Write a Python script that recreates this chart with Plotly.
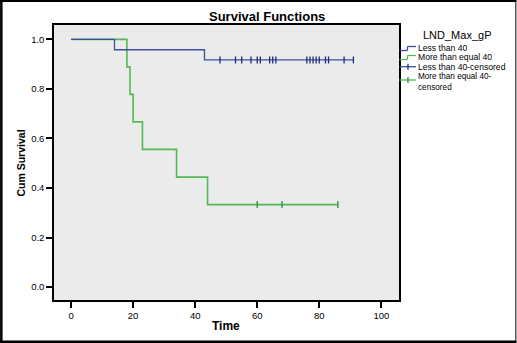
import plotly.graph_objects as go

# ---- data ----
blue_name = "Less than 40"
green_name = "More than equal 40"

blue_step_t = [0, 14, 43, 91]
blue_step_s = [1.0, 0.958, 0.917, 0.917]
blue_cens_t = [48, 53, 55, 58, 60, 61, 64, 65, 66, 76, 77, 78, 79, 80, 82, 83, 88, 91]
blue_cens_s = [0.917] * len(blue_cens_t)

green_step_t = [0, 18, 19, 20, 23, 34, 44, 86]
green_step_s = [1.0, 0.889, 0.778, 0.667, 0.556, 0.444, 0.333, 0.333]
green_cens_t = [60, 68, 86]
green_cens_s = [0.333] * len(green_cens_t)

x_ticks = [0, 20, 40, 60, 80, 100]
y_ticks = [0.0, 0.2, 0.4, 0.6, 0.8, 1.0]
y_tick_text = ["0.0", "0.2", "0.4", "0.6", "0.8", "1.0"]

BLUE = "#3d4f9e"
BLUE_DK = "#1f2d7a"
GREEN = "#55b855"
GREEN_DK = "#2f8a3a"
FONT = "Liberation Sans, Arial, sans-serif"

W, H = 517, 343
L, R, T, B = 54, 399.5, 25, 300


def px(p):
    return (p - L) / (R - L)


def py(p):
    return (B - p) / (B - T)


fig = go.Figure()
fig.add_trace(go.Scatter(x=green_step_t, y=green_step_s, mode="lines",
                         line=dict(color=GREEN, width=1.6, shape="hv"),
                         showlegend=False, hoverinfo="skip"))
fig.add_trace(go.Scatter(x=blue_step_t, y=blue_step_s, mode="lines",
                         line=dict(color=BLUE, width=1.3, shape="hv"),
                         showlegend=False, hoverinfo="skip"))
fig.add_trace(go.Scatter(x=blue_cens_t, y=blue_cens_s, mode="markers",
                         marker=dict(symbol="line-ns", size=5,
                                     line=dict(color=BLUE_DK, width=1.3)),
                         showlegend=False))
fig.add_trace(go.Scatter(x=green_cens_t, y=green_cens_s, mode="markers",
                         marker=dict(symbol="line-ns", size=5,
                                     line=dict(color=GREEN_DK, width=1.3)),
                         showlegend=False))

shapes = []
# outer black frame
for (x0, y0, x1, y1) in [(0, 0, 2.5, H), (0, 0, W, 2), (0, 340.5, W, H), (516, 0, W, H)]:
    shapes.append(dict(type="rect", xref="paper", yref="paper",
                       x0=px(x0), x1=px(x1), y0=py(y1), y1=py(y0),
                       fillcolor="black", line=dict(width=0), layer="above"))

annotations = []


def seg(x0, y0, x1, y1, color, w=1.3):
    shapes.append(dict(type="line", xref="paper", yref="paper",
                       x0=px(x0), y0=py(y0), x1=px(x1), y1=py(y1),
                       line=dict(color=color, width=w)))


def text(x, y, s, size=8.6, anchor="left", bold=False):
    annotations.append(dict(xref="paper", yref="paper", x=px(x), y=py(y),
                            text=("<b>%s</b>" % s) if bold else s,
                            showarrow=False, xanchor=anchor, yanchor="middle",
                            align="left", borderpad=0,
                            font=dict(family=FONT, size=size, color="black")))


# legend (manual, SPSS style)
text(458, 34.5, "LND_Max_gP", size=11, anchor="center")
# step glyphs
for yc, col in [(48.5, BLUE), (57.5, GREEN)]:
    seg(400, yc + 2, 408, yc + 2, col)
    seg(408, yc + 2, 408, yc - 2, col)
    seg(408, yc - 2, 416.5, yc - 2, col)
# censored glyphs
for yc, col, dk in [(66.7, BLUE, BLUE_DK), (80.0, GREEN, GREEN_DK)]:
    seg(400, yc, 416.5, yc, col)
    seg(408.5, yc - 3, 408.5, yc + 3, dk, 1.3)
text(417.5, 48.3, blue_name)
text(417.5, 57.4, green_name)
text(417.5, 66.6, blue_name + "-censored")
text(417.5, 82.3, green_name + "-<br>censored", size=8.2)

# titles
text(267, 16.5, "Survival Functions", size=13, anchor="center", bold=True)
text(226.5, 325.5, "Time", size=12, anchor="center", bold=True)
annotations.append(dict(xref="paper", yref="paper", x=px(20.5), y=py(163),
                        text="<b>Cum Survival</b>", textangle=-90, showarrow=False,
                        xanchor="center", yanchor="middle",
                        font=dict(family=FONT, size=10.5, color="black")))

fig.update_layout(
    width=W, height=H,
    margin=dict(l=L, r=W - R, t=T, b=H - B),
    paper_bgcolor="white", plot_bgcolor="#ebebeb",
    shapes=shapes, annotations=annotations, showlegend=False,
    font=dict(family=FONT, size=9.5, color="black"),
)
fig.update_xaxes(range=[-5.5, 105.7], tickvals=x_ticks, ticks="outside", ticklen=6,
                 tickwidth=1.5, tickcolor="black", showline=True, linecolor="black",
                 linewidth=1.5, mirror=True, showgrid=False, zeroline=False,
                 tickfont=dict(family=FONT, size=9.5, color="black"))
fig.update_yaxes(range=[-0.052, 1.058], tickvals=y_ticks, ticktext=y_tick_text,
                 ticks="outside", ticklen=6, tickwidth=1.5, tickcolor="black",
                 showline=True, linecolor="black", linewidth=1.5, mirror=True,
                 showgrid=False, zeroline=False,
                 tickfont=dict(family=FONT, size=9.5, color="black"))

fig.write_html("out.html")
